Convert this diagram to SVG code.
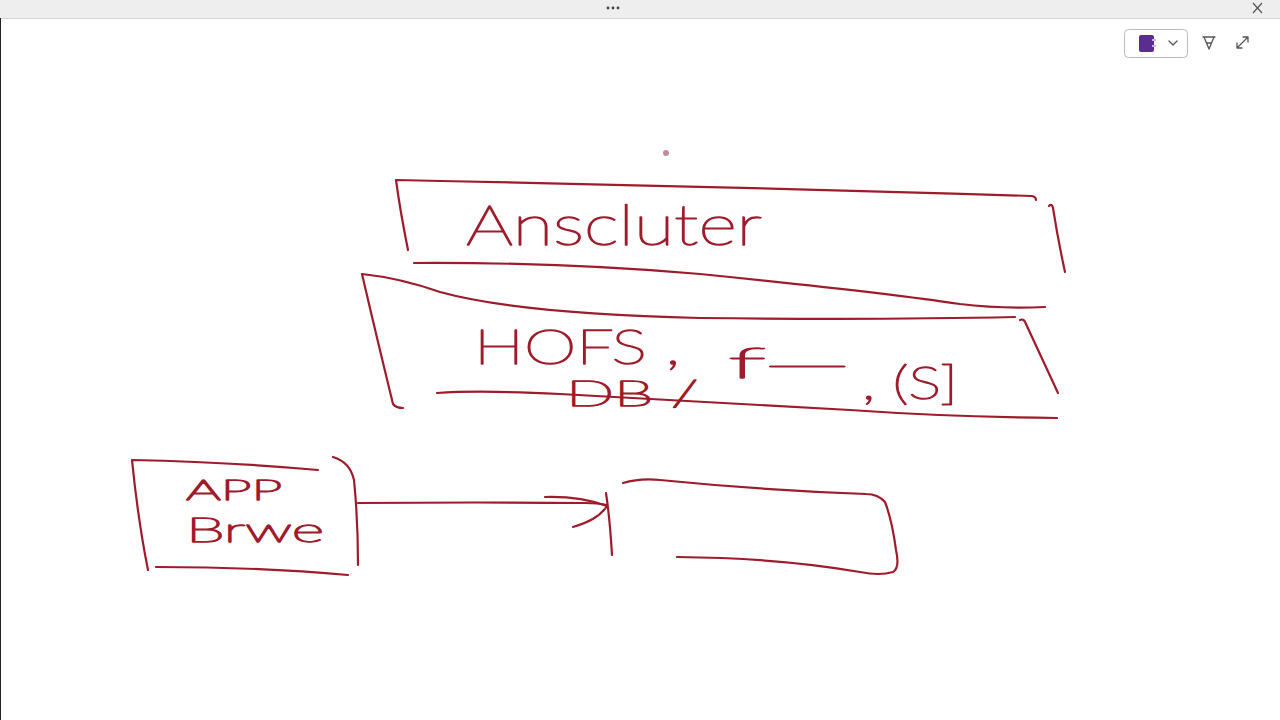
<svg xmlns="http://www.w3.org/2000/svg" width="1280" height="720" viewBox="0 0 1280 720">
<defs>
<style>
.ink{fill:none;stroke:#9e1b2b;stroke-width:2.2;stroke-linecap:round;stroke-linejoin:round}
.hw{fill:#9e1b2b;stroke:#9e1b2b;stroke-width:1.5;stroke-linejoin:round;font-family:Lato,Roboto,"Liberation Sans",sans-serif;font-weight:100}
.ui{fill:none;stroke:#555;stroke-width:1.3;stroke-linecap:round;stroke-linejoin:round}
</style>
</defs>
<rect x="0" y="0" width="1280" height="720" fill="#ffffff"/>
<rect x="0" y="0" width="1280" height="18" fill="#eeeeee"/>
<line x1="0" y1="18.5" x2="1280" y2="18.5" stroke="#d4d4d4" stroke-width="1"/>
<line x1="0.5" y1="18" x2="0.5" y2="720" stroke="#222" stroke-width="1"/>
<g fill="#444"><circle cx="608" cy="8" r="1.4"/><circle cx="613" cy="8" r="1.4"/><circle cx="618" cy="8" r="1.4"/></g>
<path d="M1253 3 L1262 13 M1262 3 L1253 13" stroke="#555" stroke-width="1.2" fill="none"/>
<g id="toolbar">
<rect x="1124.5" y="29.5" width="63" height="28" rx="4" fill="#fff" stroke="#bbb" stroke-width="1"/>
<rect x="1139" y="35" width="15" height="17" rx="2" fill="#5b2d91"/>
<rect x="1152" y="39" width="4" height="2" fill="#c9b6e6"/>
<rect x="1152" y="45" width="4" height="2" fill="#c9b6e6"/>
<path d="M1169 41 L1173 45 L1177 41" class="ui"/>
<path d="M1203 37 L1215 37 M1204 37 L1209 49 L1214 37 M1207 43 L1211 43" class="ui"/>
<path d="M1237 48 L1248 37 M1243 37 L1248 37 L1248 42 M1237 43 L1237 48 L1242 48" class="ui"/>
</g>
<circle cx="666" cy="153" r="3" fill="#b07080" opacity="0.8"/>
<g id="node-anschluter">
<path class="ink" d="M408 250 Q400 210 396 180 Q700 186 1032 196 Q1036 197 1036 200"/>
<path class="ink" d="M1049 206 Q1052 203 1053 208 Q1058 240 1065 272"/>
<path class="ink" d="M414 263 Q560 262 700 274 Q880 292 960 304 Q1000 309 1045 307"/>
<text class="hw" x="466" y="245" font-size="56" textLength="296" lengthAdjust="spacingAndGlyphs">Anscluter</text>
</g>
<g id="node-storage">
<path class="ink" d="M403 408 Q396 408 393 404 Q375 330 362 274 Q400 278 440 292 Q520 314 700 318 Q880 320 1015 317"/>
<path class="ink" d="M1020 320 Q1024 318 1026 324 Q1045 365 1058 393"/>
<path class="ink" d="M437 393 Q480 390 560 394 Q700 402 850 410 Q950 417 1057 418"/>
<text class="hw" x="474" y="364" font-size="48" textLength="206" lengthAdjust="spacingAndGlyphs">HOFS ,</text>
<text class="hw" x="728" y="378" font-size="42" textLength="124" lengthAdjust="spacingAndGlyphs">f—</text>
<text class="hw" x="862" y="399" font-size="46" textLength="96" lengthAdjust="spacingAndGlyphs">, (S]</text>
<text class="hw" x="566" y="406" font-size="36" textLength="132" lengthAdjust="spacingAndGlyphs">DB /</text>
</g>
<g id="node-app">
<path class="ink" d="M318 470 Q230 462 132 460 Q138 520 148 570"/>
<path class="ink" d="M333 457 Q350 462 354 480 Q358 520 358 565"/>
<path class="ink" d="M156 567 Q260 567 348 575"/>
<text class="hw" x="186" y="500" font-size="28" textLength="96" lengthAdjust="spacingAndGlyphs">APP</text>
<text class="hw" x="186" y="542" font-size="34" textLength="138" lengthAdjust="spacingAndGlyphs">Brwe</text>
</g>
<g id="node-target">
<path class="ink" d="M623 483 Q640 478 660 480 Q760 490 866 494 Q878 494 885 502 Q892 520 896 550 Q900 568 893 572 Q880 576 860 572 Q780 558 677 557"/>
</g>
<g id="connectors">
<path class="ink" d="M358 503 Q480 502 585 503 Q598 503 607 505"/>
<path class="ink" d="M545 497 Q580 496 607 506 Q598 520 573 527"/>
<path class="ink" d="M606 493 Q610 520 612 555"/>
</g>
</svg>
